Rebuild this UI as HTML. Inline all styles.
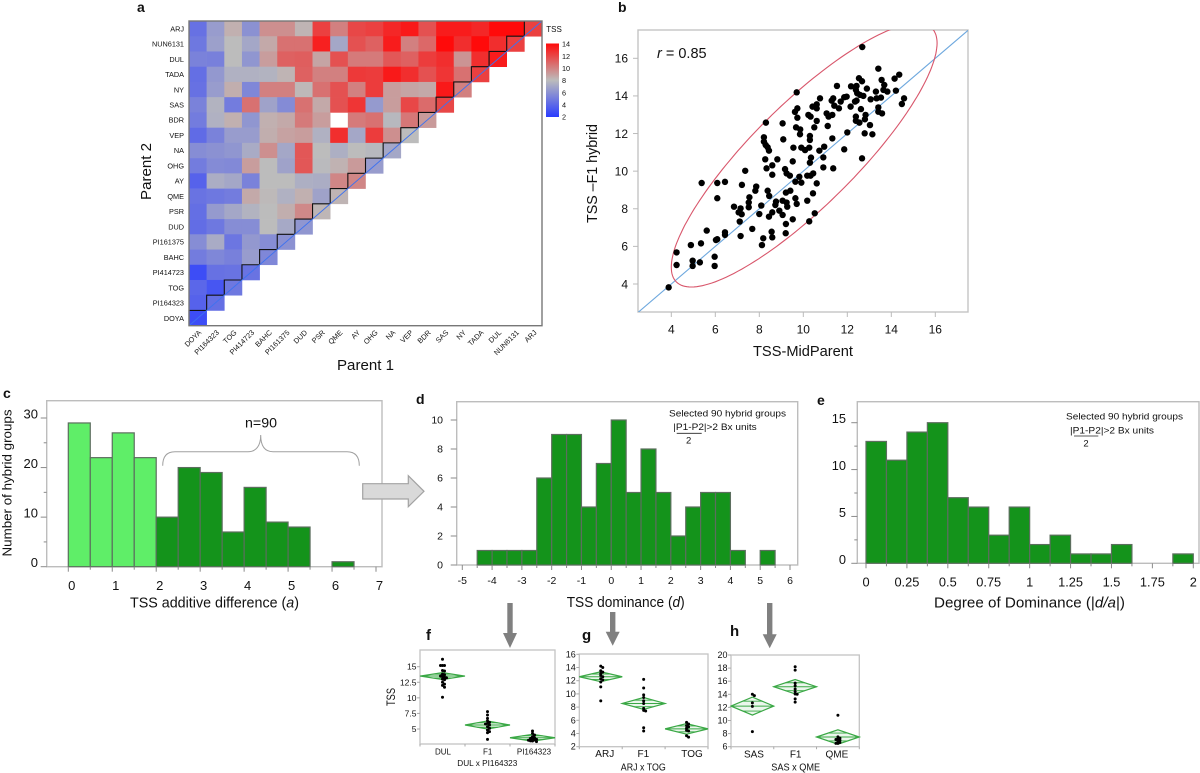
<!DOCTYPE html>
<html lang="en">
<head>
<meta charset="utf-8">
<title>TSS heterosis figure</title>
<style>
html,body{margin:0;padding:0;background:#fff}
svg{display:block}
text{font-family:"Liberation Sans",sans-serif;fill:#111}
</style>
</head>
<body>
<svg id="fig" xmlns="http://www.w3.org/2000/svg" width="1200" height="773" viewBox="0 0 1200 773">
<defs>
<linearGradient id="heatGrad" x1="0" y1="1" x2="0" y2="0">
<stop offset="0" stop-color="#2a3cff"/><stop offset="0.5" stop-color="#bcbcbc"/><stop offset="1" stop-color="#ff0a0a"/>
</linearGradient>
<clipPath id="scatterClip"><rect x="638" y="30" width="330" height="282"/></clipPath>
</defs>

<!-- panel letters -->
<text x="137" y="12" font-size="14" font-weight="bold">a</text>
<text x="618" y="12" font-size="14" font-weight="bold">b</text>
<text x="3" y="398" font-size="14" font-weight="bold">c</text>
<text x="416" y="404" font-size="14" font-weight="bold">d</text>
<text x="817" y="405" font-size="14" font-weight="bold">e</text>
<text x="426" y="640" font-size="15" font-weight="bold">f</text>
<text x="582" y="640" font-size="15" font-weight="bold">g</text>
<text x="730" y="636" font-size="15" font-weight="bold">h</text>

<!-- panel a -->
<g id="heat"></g>
<rect x="189" y="21" width="353" height="304.7" fill="none" stroke="#777" stroke-width="1.4"/>
<text x="365.5" y="370" font-size="15" text-anchor="middle" textLength="57" lengthAdjust="spacingAndGlyphs">Parent 1</text>
<text transform="translate(151,171.5) rotate(-90)" font-size="15" text-anchor="middle" textLength="57" lengthAdjust="spacingAndGlyphs">Parent 2</text>
<text x="554" y="32" font-size="8" text-anchor="middle">TSS</text>
<rect x="546" y="43.5" width="13" height="73.5" fill="url(#heatGrad)"/>
<g id="colorbarTicks"></g>

<!-- panel b -->
<rect x="638" y="30" width="330" height="282" fill="none" stroke="#c4c4c4" stroke-width="1.4"/>
<g id="scatter"></g>
<text x="657" y="58" font-size="14.5"><tspan font-style="italic">r</tspan> = 0.85</text>
<text x="803" y="356" font-size="14.5" text-anchor="middle" textLength="100" lengthAdjust="spacingAndGlyphs">TSS-MidParent</text>
<text transform="translate(597,173.5) rotate(-90)" font-size="14.5" text-anchor="middle" textLength="99" lengthAdjust="spacingAndGlyphs">TSS –F1 hybrid</text>

<!-- panel c -->
<rect x="46.7" y="400.7" width="335.3" height="166" fill="none" stroke="#bdbdbd" stroke-width="1.4"/>
<g id="histC"></g>
<text transform="translate(11.5,483) rotate(-90)" font-size="13" text-anchor="middle" textLength="147" lengthAdjust="spacingAndGlyphs">Number of hybrid groups</text>
<text x="214.5" y="607.5" font-size="15" text-anchor="middle" textLength="169" lengthAdjust="spacingAndGlyphs">TSS additive difference (<tspan font-style="italic">a</tspan>)</text>
<path d="M162.7 465.7 C162.7 456 167 451.7 175 451.7 L248 451.7 C256 451.7 260.7 446 260.7 435 C260.7 446 265 451.7 273 451.7 L347 451.7 C355 451.7 359.3 456 359.3 465.7" fill="none" stroke="#a0a0a0" stroke-width="1"/>
<text x="261" y="427.5" font-size="14" text-anchor="middle" textLength="32" lengthAdjust="spacingAndGlyphs">n=90</text>
<path d="M362.7 483.7 H408.3 V475.7 L424 491.3 L408.3 506.7 V499 H362.7 Z" fill="#d9d9d9" stroke="#a2a2a2" stroke-width="1.2"/>

<!-- panel d -->
<rect x="456.7" y="401.7" width="341" height="163.3" fill="none" stroke="#bdbdbd" stroke-width="1.4"/>
<g id="histD"></g>
<text x="625.7" y="607" font-size="15" text-anchor="middle" textLength="118" lengthAdjust="spacingAndGlyphs">TSS dominance (<tspan font-style="italic">d</tspan>)</text>
<text x="669" y="416.7" font-size="9.5" textLength="117" lengthAdjust="spacingAndGlyphs">Selected 90 hybrid groups</text>
<text x="673.3" y="430" font-size="9.5" textLength="83.4" lengthAdjust="spacingAndGlyphs">|P1-P2|&gt;2 Bx units</text>
<line x1="676.7" x2="701.7" y1="433.3" y2="433.3" stroke="#222" stroke-width="0.8"/>
<text x="688.7" y="443.7" font-size="9.5" text-anchor="middle">2</text>

<!-- panel e -->
<rect x="857.3" y="401.7" width="341.7" height="161.6" fill="none" stroke="#bdbdbd" stroke-width="1.4"/>
<g id="histE"></g>
<text x="1029.5" y="607.7" font-size="15" text-anchor="middle" textLength="191" lengthAdjust="spacingAndGlyphs">Degree of Dominance (|<tspan font-style="italic">d/a</tspan>|)</text>
<text x="1066" y="419.3" font-size="9.5" textLength="117" lengthAdjust="spacingAndGlyphs">Selected 90 hybrid groups</text>
<text x="1070" y="433.3" font-size="9.5" textLength="84" lengthAdjust="spacingAndGlyphs">|P1-P2|&gt;2 Bx units</text>
<line x1="1074" x2="1098.3" y1="436" y2="436" stroke="#222" stroke-width="0.8"/>
<text x="1086" y="446.7" font-size="9.5" text-anchor="middle">2</text>

<!-- down arrows -->
<path d="M507.3 603 H512.7 V633 H517 L510 648 L503 633 H507.3 Z" fill="#808080"/>
<path d="M610 612 H615.4 V631.7 H619.7 L612.7 645.7 L605.7 631.7 H610 Z" fill="#808080"/>
<path d="M767 603 H772.4 V634.3 H776.7 L769.7 648.3 L762.7 634.3 H767 Z" fill="#808080"/>

<!-- panels f g h -->
<rect x="420" y="650" width="135" height="94" fill="none" stroke="#c4c4c4" stroke-width="1.3"/>
<rect x="579.3" y="654" width="128.7" height="92.7" fill="none" stroke="#c4c4c4" stroke-width="1.3"/>
<rect x="731" y="655" width="128.3" height="91.7" fill="none" stroke="#c4c4c4" stroke-width="1.3"/>
<g id="dotF"></g>
<g id="dotG"></g>
<g id="dotH"></g>
<text transform="translate(395,697) rotate(-90)" font-size="12" text-anchor="middle" textLength="18" lengthAdjust="spacingAndGlyphs">TSS</text>
<text x="487.3" y="766" font-size="8.5" text-anchor="middle" textLength="60" lengthAdjust="spacingAndGlyphs">DUL x PI164323</text>
<text x="643.3" y="770.5" font-size="10" text-anchor="middle" textLength="45" lengthAdjust="spacingAndGlyphs">ARJ x TOG</text>
<text x="795.7" y="770.5" font-size="10" text-anchor="middle" textLength="49" lengthAdjust="spacingAndGlyphs">SAS x QME</text>

<script>
// ---------- panel a data ----------
var parentLabels = ["ARJ","NUN6131","DUL","TADA","NY","SAS","BDR","VEP","NA","OHG","AY","QME","PSR","DUD","PI161375","BAHC","PI414723","TOG","PI164323","DOYA"];
var heatValues = [
[4.5,6.5,8.7,6,10,10,8.5,12.5,10.5,12.3,12.5,13.2,13.6,12,13.5,13.5,13.2,14,14,12.5],
[4.8,6.7,8,7,9,11,11,13.4,7,12,11.5,13.5,10.5,11.3,14,13,14,13,12.5],
[5.3,5.2,8,6.2,9.5,11.5,11.6,9.2,12,10.7,10.7,11.8,11.5,12.6,13,9.8,13,13.5],
[4.4,6.3,7.5,7.5,7.6,8.5,11.5,10.5,10.5,12.7,12.6,13.6,13,12,12.8,11,12.5],
[4.5,6.5,8.8,5.5,10.5,10.5,8.3,11,12,10.5,12.6,9.5,9.2,9,13.6,10.5],
[5.3,7.6,5,11,6.8,5.7,11,9,12,12.8,6.4,9.5,12.3,11.2,12.3],
[5,7.5,8.7,6.2,8.7,9,10.7,9.5,null,10.7,11,7.8,10.8,9.6],
[4.2,5.3,6.5,6.5,8.8,9.3,9.5,7.5,13,7,12.6,10,8],
[5.8,6,6.2,7.2,10,7,11.8,8,7.4,8,7.8,7],
[5,5.7,5.6,9.5,8,6.8,11.8,7.9,8.6,9.6,6.5],
[3.8,7.3,7,5.3,8,8,7.4,7.3,10.3,10.3],
[4.6,4.8,5,9,8.2,7.5,8.7,6.8,8.5],
[4.4,6.4,7,7.6,8,8.8,10.2,8.4],
[4.3,4.8,5.8,5.8,8,7.1,6.2],
[5.8,7.2,4.7,6.3,5.8,6],
[5,5.5,5.2,6.5,5.5],
[2.8,4.5,4.6,4.6],
[4,3.2,4.8],
[3.8,4.4],
[2.8]
];
var colorbarTickValues = [2,4,6,8,10,12,14];

// ---------- panel b data ----------
var midParent = [12.68,13.41,14.36,14.15,12.53,12.67,13.56,11.53,12.17,12.42,12.89,13.68,9.70,10.76,12.39,12.45,13.30,13.64,13.82,14.21,12.58,12.73,13.53,13.33,13.06,12.42,12.35,11.36,11.29,11.97,11.86,11.70,14.58,14.48,10.42,10.61,10.61,9.73,9.62,11.41,11.62,12.15,12.62,13.41,13.41,13.58,11.06,10.23,10.33,11.32,11.15,9.73,10.61,12.83,12.39,12.39,12.55,12.8,8.3,9.06,11.11,10.5,9.67,9.86,13.03,9.85,12.0,12.79,13.14,8.21,9.09,10.3,10.3,11.32,8.21,8.29,8.38,8.44,9.55,9.91,10.08,10.27,10.95,10.73,11.86,10.35,10.3,10.91,12.67,8.27,8.82,9.52,8.59,8.33,10.91,11.36,7.36,9.17,9.24,8.59,9.39,9.82,10.45,10.18,10.33,9.64,9.91,10.61,5.38,6.09,6.44,7.21,7.86,7.82,8.38,8.45,9.41,9.21,7.55,7.52,7.52,10.44,10.18,9.64,9.70,9.06,8.76,8.73,9.24,9.27,6.85,7.15,8.09,7.06,7.2,8.0,8.59,8.44,8.91,9.06,7.11,9.52,9.21,10.52,10.27,6.09,5.61,7.68,8.56,8.59,8.18,9.2,7.15,6.44,6.44,6.09,6.03,5.35,4.89,8.12,4.24,5.97,4.97,4.97,5.3,4.24,5.97,3.88];
var f1Hybrid = [16.6,15.45,15.13,14.92,14.94,14.78,14.85,14.53,14.51,14.53,14.39,14.58,14.19,13.87,14.32,14.14,14.23,14.32,14.23,14.28,14.05,14.0,13.91,13.87,13.82,13.75,13.7,13.87,13.75,13.96,13.93,13.7,13.87,13.57,13.43,13.55,13.34,13.34,13.15,13.48,13.34,13.43,13.3,13.39,13.16,13.07,13.07,12.99,12.9,12.99,12.9,12.84,12.67,12.99,12.9,12.68,12.58,12.76,12.58,12.54,12.4,12.33,12.33,12.22,12.45,11.96,12.06,12.01,11.96,11.8,11.69,11.87,11.66,11.74,11.57,11.39,11.27,11.09,11.25,11.25,11.12,11.25,11.3,11.09,11.16,10.72,10.45,10.73,10.68,10.63,10.63,10.52,10.31,10.15,10.2,10.15,10.02,10.11,9.88,9.81,9.76,9.7,9.88,9.76,9.76,9.44,9.39,9.35,9.37,9.37,9.43,9.27,9.18,8.96,8.96,8.68,8.96,8.86,8.61,8.33,8.08,8.82,8.43,8.56,8.26,8.43,8.38,8.2,8.33,8.11,8.11,8.02,8.17,7.81,7.71,7.72,7.81,7.58,7.9,7.67,7.32,7.44,7.19,7.76,7.33,8.56,6.84,6.93,6.78,6.48,6.43,6.7,6.55,6.75,6.61,6.38,6.34,6.16,6.07,6.07,5.68,5.45,5.24,4.96,5.15,5.01,4.96,3.82];
var scatterTicks = [4,6,8,10,12,14,16];
var ellipseCenter = [10.04,10.85];
var ellipseRadius = [6.04,7.01];
var ellipseRho = 0.85;

// ---------- panel c data ----------
var cBinStarts = [0,0.5,1,1.5,2,2.5,3,3.5,4,4.5,5,5.5,6];
var cCounts = [29,22,27,22,10,20,19,7,16,9,8,0,1];
var cLightBinsBelow = 2;
var cXTicks = [0,1,2,3,4,5,6,7];
var cYTicks = [0,10,20,30];

// ---------- panel d data ----------
var dBinStarts = [-4.5,-4,-3.5,-3,-2.5,-2,-1.5,-1,-0.5,0,0.5,1,1.5,2,2.5,3,3.5,4,4.5,5];
var dCounts = [1,1,1,1,6,9,9,4,7,10,5,8,5,2,4,5,5,1,0,1];
var dXTicks = [-5,-4,-3,-2,-1,0,1,2,3,4,5,6];
var dYTicks = [0,2,4,6,8,10];

// ---------- panel e data ----------
var eBinStarts = [0,0.125,0.25,0.375,0.5,0.625,0.75,0.875,1,1.125,1.25,1.375,1.5,1.625,1.75,1.875];
var eCounts = [13,11,14,15,7,6,3,6,2,3,1,1,2,0,0,1];
var eXTicks = [0,0.25,0.5,0.75,1,1.25,1.5,1.75,2];
var eYTicks = [0,5,10,15];

// ---------- panels f g h data ----------
var fCategories = ["DUL","F1","PI164323"];
var fMeans = [13.5,5.64,3.6];
var fHalfHeights = [0.55,0.65,0.55];
var fPoints = [
[16.2,15.2,15.2,15.2,14.4,14.3,13.8,13.7,13.5,13.4,13.3,13.2,13,12.9,12.5,12.2,12,11.7,10.1],
[7.78,7.25,6.7,6.3,6.07,5.9,5.8,5.64,5.37,5.1,4.84,4.57,4.4,3.34],
[4.68,4.3,4.04,3.77,3.6,3.5,3.4,3.34,3.24,3.2,3.1,3.07,2.97]
];
var fTicks = [5,7.5,10,12.5,15];

var gCategories = ["ARJ","F1","TOG"];
var gMeans = [12.6,8.55,4.7];
var gHalfHeights = [0.75,0.9,0.8];
var gPoints = [
[14.2,14,13.5,13.3,13.1,12.8,12.6,12.3,12.1,11.8,11.07,8.95],
[12.2,10.9,9.86,9.45,8.95,8.55,7.8,7.5,7.4,4.87,4.37],
[5.68,5.43,5.2,5.0,4.8,4.5,4.37,3.66,3.46]
];
var gTicks = [2,4,6,8,10,12,14,16];

var hCategories = ["SAS","F1","QME"];
var hMeans = [12.2,15.16,7.48];
var hHalfHeights = [1.37,1.1,1.1];
var hPoints = [
[14,13.8,12.7,12.15,8.3],
[18.2,17.7,15.7,15.3,14.8,14.4,14.05,14,13.3,12.8],
[10.8,7.5,7.3,7.2,7.1,7,6.8,6.65,6.5,6.5]
];
var hTicks = [6,8,10,12,14,16,18,20];

// ---------- helpers ----------
var NS = "http://www.w3.org/2000/svg";
function mk(parent, tag, attrs, txt) {
  var el = document.createElementNS(NS, tag);
  for (var k in attrs) el.setAttribute(k, attrs[k]);
  if (txt !== undefined) el.textContent = txt;
  parent.appendChild(el);
  return el;
}
function linScale(d0, d1, r0, r1) {
  return function (v) { return r0 + (v - d0) * (r1 - r0) / (d1 - d0); };
}
function lerp(a, b, t) { return Math.round(a + (b - a) * t); }
function heatColor(v) {
  var lo = [42,60,255], mid = [188,188,188], hi = [255,10,10], a, b, t;
  if (v <= 8) { a = lo; b = mid; t = (v - 2) / 6; } else { a = mid; b = hi; t = Math.pow((v - 8) / 6, 1.25); }
  t = Math.max(0, Math.min(1, t));
  return "rgb(" + lerp(a[0],b[0],t) + "," + lerp(a[1],b[1],t) + "," + lerp(a[2],b[2],t) + ")";
}

// ---------- panel a ----------
(function () {
  var g = document.getElementById("heat");
  var n = parentLabels.length;
  var cx = linScale(0, n, 189, 542), cy = linScale(0, n, 21, 325.7);
  var cw = cx(1) - cx(0), ch = cy(1) - cy(0);
  heatValues.forEach(function (row, r) {
    row.forEach(function (v, c) {
      if (v === null) return;
      var el = mk(g, "rect", {x: cx(c), y: cy(r), width: cw + 0.3, height: ch + 0.3, fill: heatColor(v)});
      
      
    });
    var lab = mk(g, "text", {x: 184, y: cy(r) + ch / 2 + 2.7, "font-size": 7.3, "text-anchor": "end", fill: "#333"}, parentLabels[r]);
    
    
    var xl = cx(n - 1 - r) + cw / 2 + 4;
    var xlab = mk(g, "text", {transform: "translate(" + xl + ",333) rotate(-45)", "font-size": 7.3, "text-anchor": "end", fill: "#333"}, parentLabels[r]);
    
    
  });
  var d = "";
  for (var r = 0; r < n; r++) {
    var c = n - 1 - r;
    d += "M" + cx(c) + " " + cy(r + 1) + "V" + cy(r) + "H" + cx(c + 1);
  }
  var stair = mk(g, "path", {d: d, fill: "none", stroke: "#111", "stroke-width": 1.1});
  
  
  var diag = mk(g, "line", {x1: cx(0), y1: cy(n), x2: cx(n), y2: cy(0), stroke: "#3d72f0", "stroke-width": 0.9});
  
  

  var cb = document.getElementById("colorbarTicks");
  var by = linScale(2, 14, 117, 44);
  colorbarTickValues.forEach(function (v) {
    var t = mk(cb, "text", {x: 562, y: by(v) + 2.6, "font-size": 7.3, fill: "#333"}, v);
    
    
  });
})();

// ---------- panel b ----------
(function () {
  var g = document.getElementById("scatter");
  var sx = linScale(4, 16, 671.3, 935.3), sy = linScale(4, 16, 284, 58.3);
  scatterTicks.forEach(function (v) {
    var a = mk(g, "line", {x1: sx(v), x2: sx(v), y1: 312, y2: 317, stroke: "#bbb", "stroke-width": 1});
    
    
    var b = mk(g, "line", {x1: 633, x2: 638, y1: sy(v), y2: sy(v), stroke: "#bbb", "stroke-width": 1});
    
    
    var c = mk(g, "text", {x: sx(v), y: 333.5, "font-size": 12, "text-anchor": "middle", fill: "#222"}, v);
    
    
    var e = mk(g, "text", {x: 628, y: sy(v) + 4.3, "font-size": 12, "text-anchor": "end", fill: "#222"}, v);
    
    
  });
  var clip = mk(g, "g", {"clip-path": "url(#scatterClip)"});
  var line = mk(clip, "line", {x1: sx(2.5), y1: sy(2.5), x2: sx(17.5), y2: sy(17.5), stroke: "#6ea8de", "stroke-width": 1.1});
  
  
  var pts = [], phi = Math.acos(ellipseRho);
  for (var i = 0; i <= 180; i++) {
    var t = i / 180 * 2 * Math.PI;
    pts.push(sx(ellipseCenter[0] + ellipseRadius[0] * Math.cos(t)).toFixed(1) + "," + sy(ellipseCenter[1] + ellipseRadius[1] * Math.cos(t - phi)).toFixed(1));
  }
  var ell = mk(clip, "polygon", {points: pts.join(" "), fill: "none", stroke: "#d8566b", "stroke-width": 1.1});
  
  
  midParent.forEach(function (x, i) {
    var dot = mk(clip, "circle", {cx: sx(x), cy: sy(f1Hybrid[i]), r: 3.2, fill: "#000"});
    
    
  });
})();

// ---------- histograms ----------
function drawHist(g, sx, sy, starts, counts, binW, colorFor) {
  starts.forEach(function (s, i) {
    if (!counts[i]) return;
    var x0 = sx(s), x1 = sx(s + binW), y = sy(counts[i]);
    var bar = mk(g, "rect", {x: x0, y: y, width: x1 - x0, height: sy(0) - y, fill: colorFor(s), stroke: "#5c6e5e", "stroke-width": 1.2});
    
    
  });
}
function drawTicks(g, sx, sy, xTicks, yTicks, xMinorStep, yMinorStep, opt) {
  var base = sy(0);
  var maxX = xTicks[xTicks.length - 1], minX = xTicks[0];
  for (var v = minX; v <= maxX + 1e-9; v += xMinorStep) {
    var isMajor = xTicks.some(function (t) { return Math.abs(t - v) < 1e-9; });
    var tk = mk(g, "line", {x1: sx(v), x2: sx(v), y1: base, y2: base + (isMajor ? 5 : 3), stroke: "#8a8a8a", "stroke-width": 1});
    
    
  }
  xTicks.forEach(function (v) {
    var lb = mk(g, "text", {x: sx(v) + opt.xLabelShift, y: opt.xLabelY, "font-size": opt.font, "text-anchor": "middle", fill: "#222"}, v);
    
    
  });
  var maxY = yTicks[yTicks.length - 1];
  for (var w = 0; w <= maxY + 1e-9; w += yMinorStep) {
    var major = yTicks.indexOf(w) >= 0;
    var yt = mk(g, "line", {x1: opt.axisX - (major ? 6 : 3), x2: opt.axisX, y1: sy(w), y2: sy(w), stroke: "#8a8a8a", "stroke-width": 1});
    
    
  }
  yTicks.forEach(function (w) {
    var ly = mk(g, "text", {x: opt.yLabelX, y: sy(w) + opt.yLabelDy, "font-size": opt.font, "text-anchor": "end", fill: "#222"}, w);
    
    
  });
}
(function () {
  var sx = linScale(0, 7, 68.3, 376), sy = linScale(0, 30, 566.7, 418);
  var g = document.getElementById("histC");
  drawHist(g, sx, sy, cBinStarts, cCounts, 0.5, function (s) { return s < cLightBinsBelow ? "#5fee68" : "#14931b"; });
  drawTicks(g, sx, sy, cXTicks, cYTicks, 0.5, 5, {xLabelShift: 3.5, xLabelY: 590, font: 13, axisX: 46.7, yLabelX: 38, yLabelDy: 0.5});
})();
(function () {
  var sx = linScale(-5, 6, 462.3, 790), sy = linScale(0, 10, 565, 420);
  var g = document.getElementById("histD");
  drawHist(g, sx, sy, dBinStarts, dCounts, 0.5, function () { return "#14931b"; });
  drawTicks(g, sx, sy, dXTicks, dYTicks, 0.5, 2, {xLabelShift: 0, xLabelY: 584, font: 10.5, axisX: 456.7, yLabelX: 443, yLabelDy: 3.5});
})();
(function () {
  var sx = linScale(0, 2, 866, 1193.3), sy = linScale(0, 15, 563.3, 422.7);
  var g = document.getElementById("histE");
  drawHist(g, sx, sy, eBinStarts, eCounts, 0.125, function () { return "#14931b"; });
  drawTicks(g, sx, sy, eXTicks, eYTicks, 0.125, 2.5, {xLabelShift: 0, xLabelY: 586.7, font: 12.8, axisX: 857.3, yLabelX: 846, yLabelDy: 0.5});
})();

// ---------- diamond dot plots ----------
function drawDot(g, cfg) {
  var n = cfg.categories.length;
  var band = (cfg.right - cfg.left) / n;
  var sy = cfg.sy;
  cfg.ticks.forEach(function (v) {
    var tk = mk(g, "line", {x1: cfg.left - 3, x2: cfg.left, y1: sy(v), y2: sy(v), stroke: "#aaa", "stroke-width": 1});
    
    
    var lb = mk(g, "text", {x: cfg.left - 3.5, y: sy(v) + 3, "font-size": cfg.tickFont, "text-anchor": "end", fill: "#222"}, v);
    
    
  });
  for (var b = 0; b <= n; b++) {
    var xt = mk(g, "line", {x1: cfg.left + b * band, x2: cfg.left + b * band, y1: cfg.bottom, y2: cfg.bottom + 2.5, stroke: "#aaa", "stroke-width": 1});
    
    
  }
  cfg.categories.forEach(function (name, i) {
    var cx = cfg.left + (i + 0.5) * band;
    var l = cx - band / 2, r = cx + band / 2;
    var m = cfg.means[i], h = cfg.halfHeights[i];
    var dia = mk(g, "polygon", {points: l + "," + sy(m) + " " + cx + "," + sy(m + h) + " " + r + "," + sy(m) + " " + cx + "," + sy(m - h), fill: "#3aa845", "fill-opacity": 0.1, stroke: "#3aa845", "stroke-width": 1.2});
    
    
    var ml = mk(g, "line", {x1: l, x2: r, y1: sy(m), y2: sy(m), stroke: "#3aa845", "stroke-width": 1});
    
    
    [0.55, -0.55].forEach(function (f) {
      var w = (1 - Math.abs(f)) * band / 2;
      var ol = mk(g, "line", {x1: cx - w, x2: cx + w, y1: sy(m + h * f), y2: sy(m + h * f), stroke: "#3aa845", "stroke-width": 0.9});
      
      
    });
    var placed = [];
    cfg.points[i].forEach(function (v) {
      var py = sy(v), k = 0, off = 0, found = false;
      while (!found) {
        off = (k % 2 ? 1 : -1) * Math.ceil(k / 2) * 2;
        found = placed.every(function (p) { return Math.hypot(p[0] - off, p[1] - py) >= 1.9; });
        k++;
      }
      placed.push([off, py]);
      var dot = mk(g, "circle", {cx: cx + off, cy: py, r: 1.5, fill: "#000"});
      
      
    });
    var lab = mk(g, "text", {x: cx + cfg.labelShift[i], y: cfg.labelY, "font-size": cfg.catFont, "text-anchor": "middle", fill: "#222"}, name);
    
    
  });
}
drawDot(document.getElementById("dotF"), {categories: fCategories, means: fMeans, halfHeights: fHalfHeights, points: fPoints, ticks: fTicks, left: 420, right: 555, bottom: 744, sy: linScale(5, 15, 729, 666.7), tickFont: 8.5, catFont: 8, labelY: 754.3, labelShift: [0.5, 0.2, 1.5]});
drawDot(document.getElementById("dotG"), {categories: gCategories, means: gMeans, halfHeights: gHalfHeights, points: gPoints, ticks: gTicks, left: 579.3, right: 708, bottom: 746.7, sy: linScale(2, 16, 746.7, 654.3), tickFont: 9, catFont: 10, labelY: 757, labelShift: [4, -0.3, 5.5]});
drawDot(document.getElementById("dotH"), {categories: hCategories, means: hMeans, halfHeights: hHalfHeights, points: hPoints, ticks: hTicks, left: 731, right: 859.3, bottom: 746.7, sy: linScale(6, 20, 746.7, 655), tickFont: 9, catFont: 10, labelY: 757.7, labelShift: [1.6, 0.5, -1]});
</script>
</svg>
</body>
</html>
